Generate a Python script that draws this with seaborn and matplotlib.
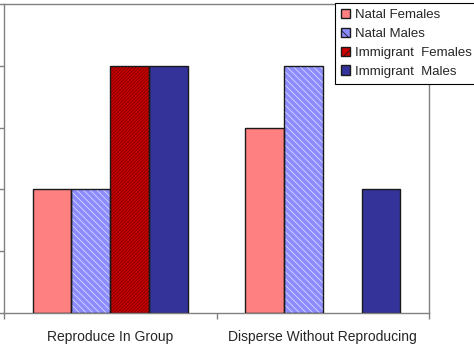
import matplotlib
matplotlib.use("Agg")
import matplotlib.pyplot as plt
import seaborn as sns
import pandas as pd
from matplotlib.patches import Rectangle

categories = ["Reproduce In Group", "Disperse Without Reproducing"]
series = ["Natal Females", "Natal Males", "Immigrant  Females", "Immigrant  Males"]
natal_females = [2, 3]
natal_males = [2, 4]
immigrant_females = [4, 0]
immigrant_males = [4, 2]

values = {series[0]: natal_females, series[1]: natal_males,
          series[2]: immigrant_females, series[3]: immigrant_males}
rows = []
for s in series:
    for c, v in zip(categories, values[s]):
        rows.append({"cat": c, "series": s, "value": v})
df = pd.DataFrame(rows)

face = ["#FF8080", "#8C8CFF", "#CC0000", "#333399"]
hatches = [None, "\\\\\\\\\\", "//////////", None]
hatch_cols = [None, "#D8D8FF", "#7A0000", None]

sns.set_style("white")
plt.rcParams["font.family"] = ["Liberation Sans", "DejaVu Sans"]
plt.rcParams["hatch.linewidth"] = 0.6

fig = plt.figure(figsize=(4.74, 3.48), dpi=100)
ax = fig.add_axes([4 / 474, 35 / 348, 425 / 474, 309 / 348])

sns.barplot(data=df, x="cat", y="value", hue="series", hue_order=series,
            order=categories, palette=face, width=0.73, ax=ax,
            legend=False, saturation=1, errorbar=None)

# style bars: hatch layer + outline layer
n_cat = len(categories)
for i, patch in enumerate(list(ax.patches)):
    si = i // n_cat
    x, y = patch.get_x(), patch.get_y()
    w, h = patch.get_width(), patch.get_height()
    if hatches[si]:
        patch.set_hatch(hatches[si])
        patch.set_edgecolor(hatch_cols[si])
        patch.set_linewidth(0)
    else:
        patch.set_edgecolor("none")
    if h > 0:
        ax.add_patch(Rectangle((x, y), w, h, fill=False, edgecolor="#1a1a1a",
                               linewidth=1.0, zorder=3))

ax.set_ylim(0, 5)
ax.set_xlim(-0.5, 1.5)
ax.set_yticks(range(0, 6))
ax.set_yticklabels([])
ax.tick_params(axis="y", length=4, width=1, color="#808080", left=True)
ax.set_xticks([0, 1])
ax.set_xticklabels(categories, fontsize=10)
ax.tick_params(axis="x", length=0, pad=12.5)
ax.set_xticks([-0.5, 0.5, 1.5], minor=True)
ax.tick_params(axis="x", which="minor", length=4, width=1, color="#808080", bottom=True)
ax.set_xlabel("")
ax.set_ylabel("")
for sp in ax.spines.values():
    sp.set_color("#808080")
    sp.set_linewidth(1)
    sp.set_visible(True)

handles = []
for si in range(4):
    if hatches[si]:
        hp = Rectangle((0, 0), 1, 1, facecolor=face[si], hatch="\\\\\\" if si == 1 else "///",
                       edgecolor="#1a1a1a", linewidth=1.0)
    else:
        hp = Rectangle((0, 0), 1, 1, facecolor=face[si], edgecolor="#1a1a1a", linewidth=1.0)
    handles.append(hp)
leg = fig.legend(handles, series, loc="upper left", bbox_to_anchor=(335 / 474, 1 - 3 / 348),
                 fontsize=9.5, frameon=True, fancybox=False, edgecolor="black",
                 framealpha=1, borderaxespad=0, handlelength=0.7, handleheight=0.7,
                 handletextpad=0.4, labelspacing=0.5, borderpad=0.45)
leg.get_frame().set_linewidth(0.8)

fig.savefig("out.png", dpi=100)
